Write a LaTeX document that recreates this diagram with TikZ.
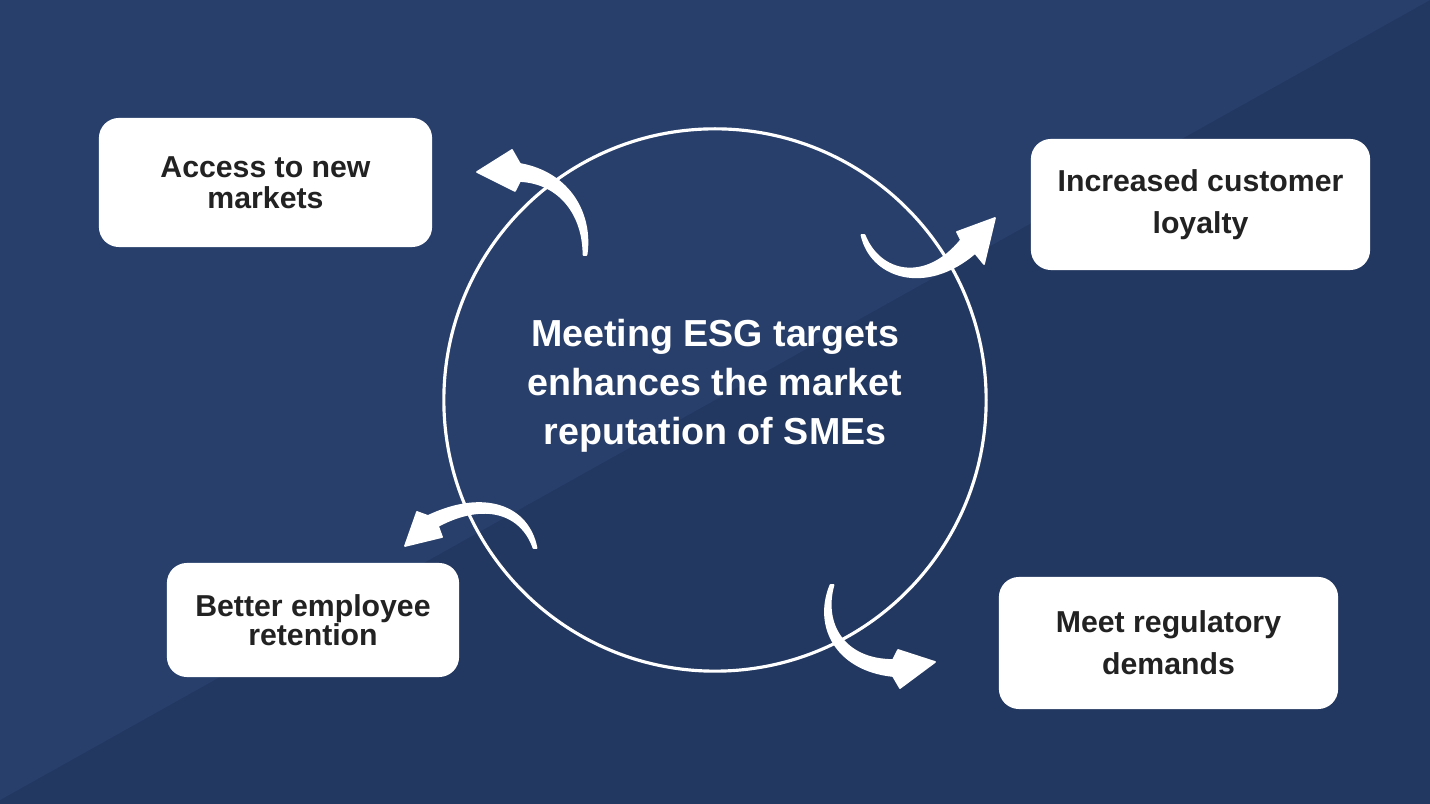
\documentclass[tikz,border=0pt]{standalone}
\usepackage{fontspec}
\setmainfont{Liberation Sans}
\usepackage{tikz}
\usetikzlibrary{positioning}
\definecolor{navy}{HTML}{283F6C}
\definecolor{navydark}{HTML}{233861}
\definecolor{boxtext}{HTML}{222222}

\begin{document}
\begin{tikzpicture}[
  x=0.01cm, y=-0.01cm,
  box/.style={draw=none, fill=white, rounded corners=5.7pt, align=center,
              text=boxtext, font=\fontsize{8.6}{12}\selectfont\bfseries},
  tight/.style={font=\fontsize{8.6}{8.7}\selectfont\bfseries},
  tighter/.style={font=\fontsize{8.6}{8.3}\selectfont\bfseries},
  hub/.style={circle, draw=white, line width=0.9pt, minimum size=5.42cm, inner sep=0pt},
  msg/.style={align=center, text=white, font=\fontsize{10.7}{14}\selectfont\bfseries},
  swoosh/.style={fill=white, draw=white, line width=0.5pt, line join=round}
]
% background with lighter upper triangle
\fill[navydark] (0,0) rectangle (1430,804);
\fill[navy] (0,0) -- (1430,0) -- (0,800) -- cycle;
\useasboundingbox (0,0) rectangle (1430,804);

% central circle
\node[hub] (ring) at (715,400) {};
\node[msg] (claim) at (715,386) {Meeting ESG targets\\enhances the market\\reputation of SMEs};

% benefit boxes
\node[box, tight, minimum width=3.33cm, minimum height=1.29cm] (markets) at (265.5,182.5) {Access to new\\markets};
\node[box, minimum width=3.39cm, minimum height=1.31cm] (loyalty) at (1200.5,204.5) {Increased customer\\loyalty};
\node[box, tighter, minimum width=2.92cm, minimum height=1.14cm] (staff) at (313,620) {Better employee\\retention};
\node[box, minimum width=3.39cm, minimum height=1.32cm] (rules) at (1168.5,643) {Meet regulatory\\demands};

% curved arrows
\fill[swoosh] (586.5,255) .. controls (592.5,214.5) and (570,173) .. (520,164)
  -- (512,150) -- (477,172) -- (515,191) -- (520,181)
  .. controls (560,183) and (583.5,215) .. (583.5,255) -- cycle;
\fill[swoosh] (861.5,235) .. controls (870.5,277) and (925,296) .. (975,253)
  -- (984,264) -- (995,218) -- (957,232) -- (961,240)
  .. controls (925,284) and (879.5,273) .. (864.5,235) -- cycle;
\fill[swoosh] (536.5,548) .. controls (528.5,506.5) and (485,489) .. (428,516)
  -- (417,512) -- (405,546) -- (442,537) -- (438,526)
  .. controls (485,501) and (521.5,513.5) .. (533.5,548) -- cycle;
\fill[swoosh] (830.5,585) .. controls (813.5,626) and (836,670) .. (893,676)
  -- (900,688) -- (935,662) -- (898,650) -- (893,660)
  .. controls (844,660) and (822.5,624) .. (833.5,585) -- cycle;
\end{tikzpicture}
\end{document}
